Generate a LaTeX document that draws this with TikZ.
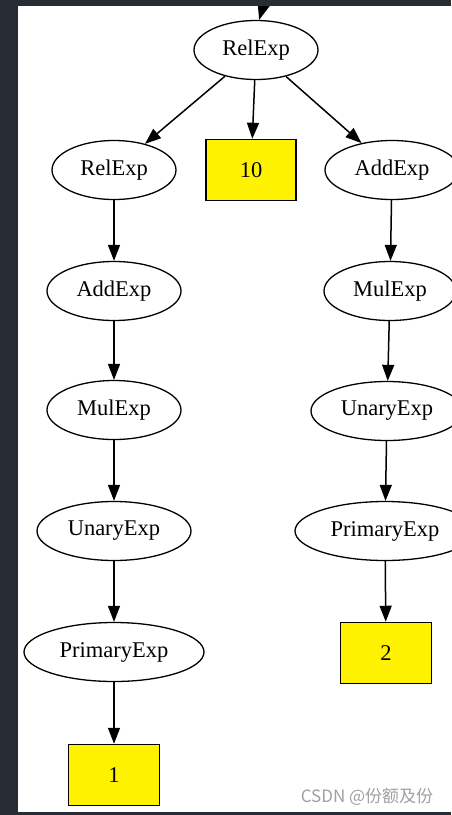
\documentclass[tikz,border=0pt]{standalone}
\usepackage{fontspec}
\setmainfont{Liberation Serif}
\newfontfamily\cjkfont{Noto Sans CJK SC}
\usetikzlibrary{shapes.geometric,arrows.meta}
\definecolor{darkbg}{HTML}{282C34}
\definecolor{wmgray}{HTML}{A0A0A0}
\tikzset{
  ast/.style={ellipse,draw=black,line width=1.3pt,inner sep=0pt,minimum height=59pt,font=\fontsize{22.5}{26}\selectfont},
  leafbox/.style={rectangle,draw=black,line width=1.5pt,fill=yellow,inner sep=0pt,minimum width=91pt,minimum height=61pt,font=\fontsize{22.5}{26}\selectfont},
  edge/.style={draw=black,line width=1.5pt,-{Triangle[length=16pt,width=12pt]}}
}
\begin{document}
\begin{tikzpicture}[x=1pt,y=-1pt]
\useasboundingbox (0,0) rectangle (451,815);
\fill[white] (0,0) rectangle (451,815);
% nodes
\node[ast,minimum width=124pt] (top) at (256,50) {RelExp};
\node[ast,minimum width=124pt] (lrel) at (114,170) {RelExp};
\node[leafbox,minimum width=90pt] (ten) at (251,170) {10};
\node[ast,minimum width=134pt] (radd) at (392,170) {AddExp};
\node[ast,minimum width=134pt] (ladd) at (114,291) {AddExp};
\node[ast,minimum width=134pt] (lmul) at (114,410) {MulExp};
\node[ast,minimum width=154pt] (luna) at (114,531) {UnaryExp};
\node[ast,minimum width=180pt] (lpri) at (114,652) {PrimaryExp};
\node[leafbox] (one) at (114,775) {1};
\node[ast,minimum width=132pt] (rmul) at (390,291) {MulExp};
\node[ast,minimum width=152pt] (runa) at (387,411) {UnaryExp};
\node[ast,minimum width=180pt] (rpri) at (385,531) {PrimaryExp};
\node[leafbox] (two) at (386,653) {2};
\coordinate (incoming) at (266,-4);
% edges
\draw[edge] (incoming) -- (top.84);
\draw[edge] (top) -- (lrel);
\draw[edge] (top) -- (ten);
\draw[edge] (top) -- (radd);
\draw[edge] (lrel) -- (ladd);
\draw[edge] (ladd) -- (lmul);
\draw[edge] (lmul) -- (luna);
\draw[edge] (luna) -- (lpri);
\draw[edge] (lpri) -- (one);
\draw[edge] (radd) -- (rmul);
\draw[edge] (rmul) -- (runa);
\draw[edge] (runa) -- (rpri);
\draw[edge] (rpri) -- (two);
% watermark
\node[font=\cjkfont\fontsize{17}{20}\selectfont,text=wmgray,inner sep=0pt] (wm) at (367,797) {CSDN @份额及份};
% dark frame
\fill[darkbg] (0,0) rectangle (18,815);
\fill[darkbg] (0,0) rectangle (451,6);
\fill[darkbg] (0,812) rectangle (451,815);
\end{tikzpicture}
\end{document}
